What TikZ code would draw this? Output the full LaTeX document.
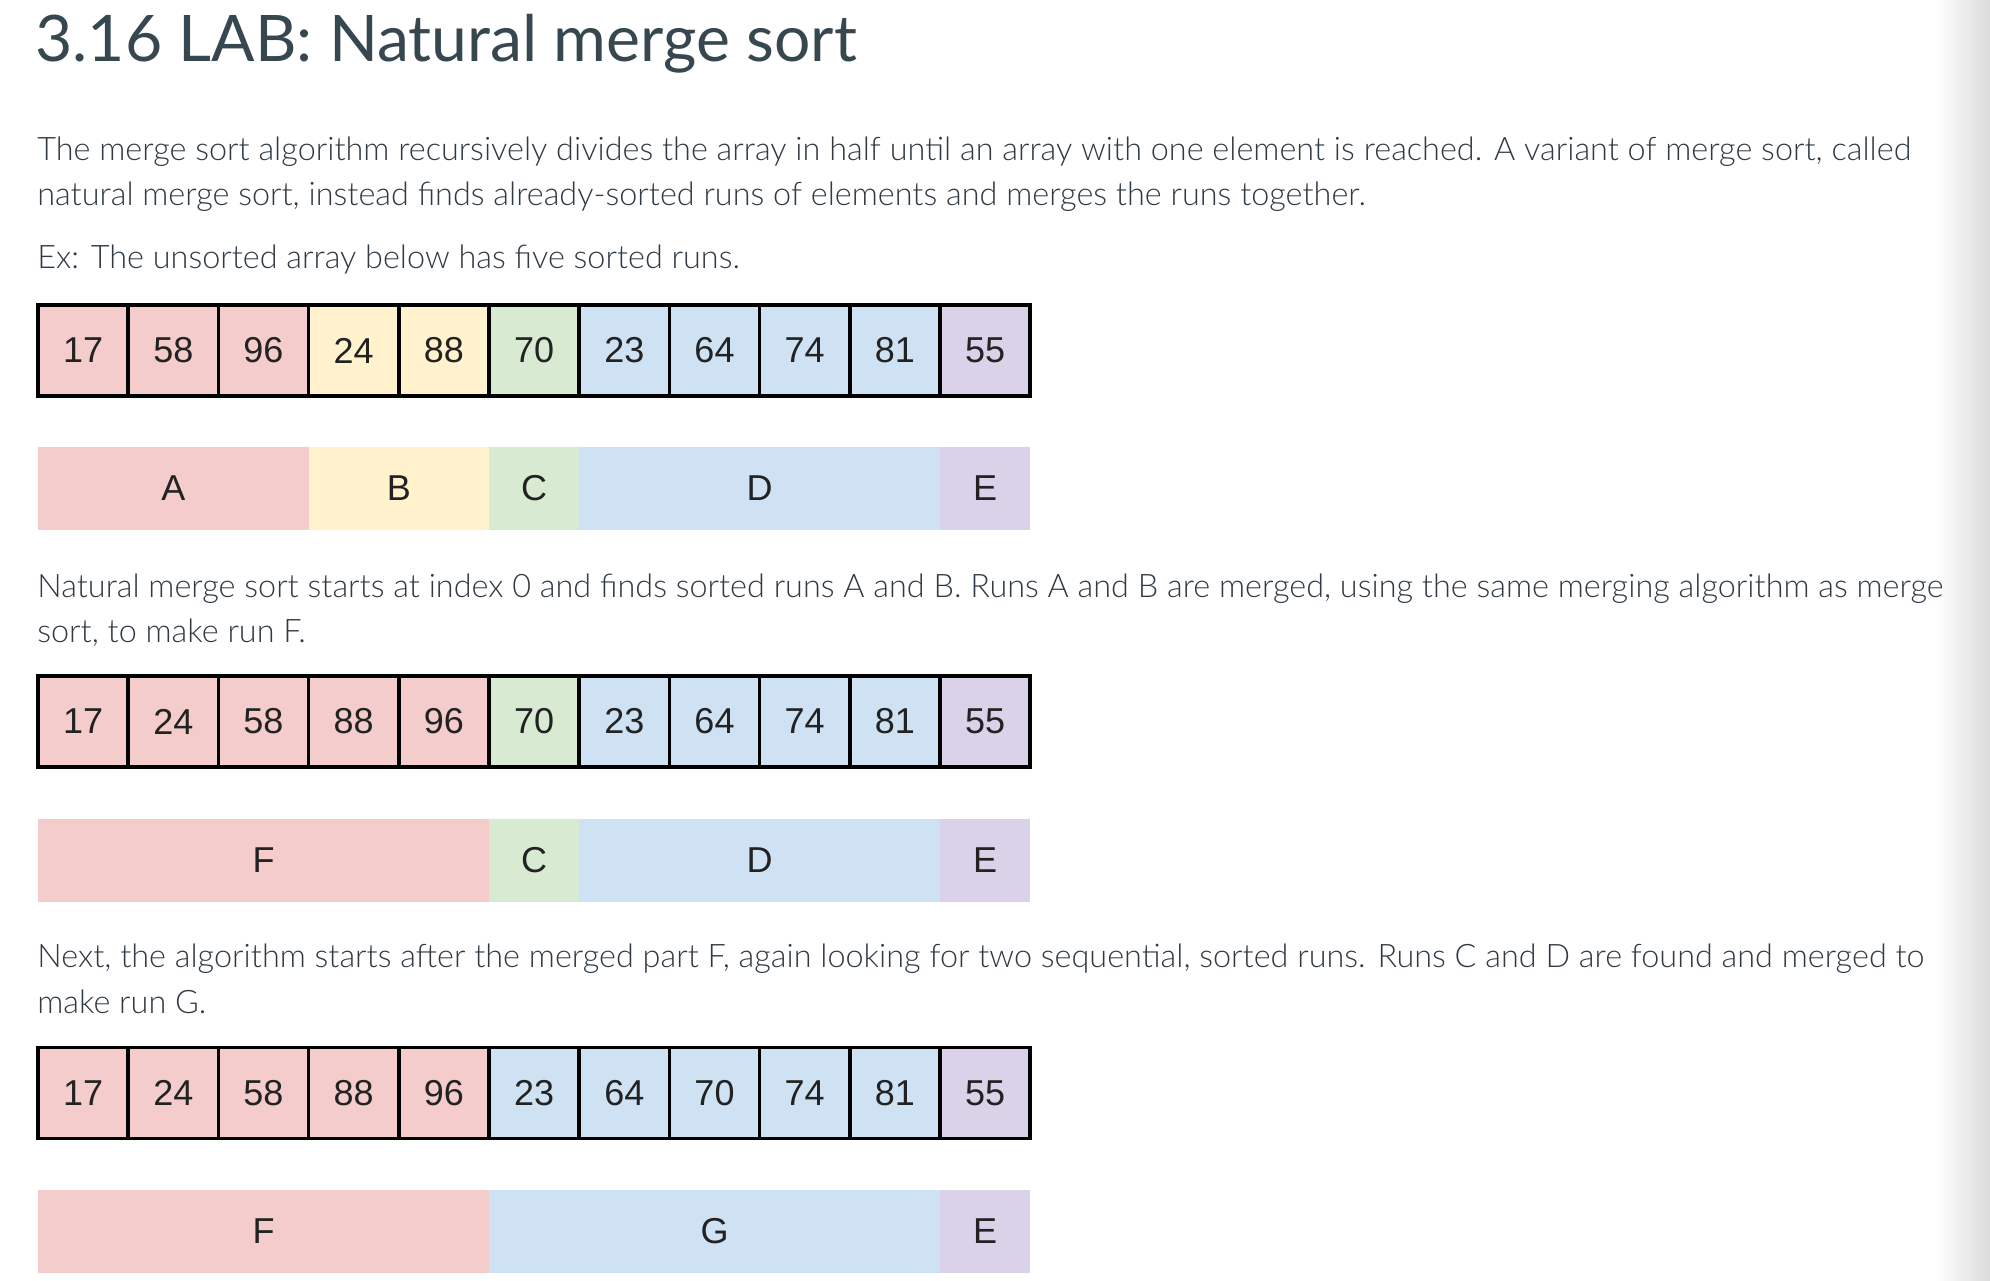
\documentclass[tikz,border=0pt]{standalone}
\usepackage{fontspec}
\setmainfont{Lato Light}
\newfontfamily\titlefont{Lato}
\newfontfamily\cellfont{Liberation Sans}
\definecolor{runred}{HTML}{F4CCCC}
\definecolor{runyellow}{HTML}{FFF2CC}
\definecolor{rungreen}{HTML}{D9EAD3}
\definecolor{runblue}{HTML}{CFE2F3}
\definecolor{runpurple}{HTML}{D9D2E9}
\definecolor{titleink}{HTML}{37474F}
\definecolor{bodyink}{HTML}{303A44}
\definecolor{cellink}{HTML}{222222}

\begin{document}
\begin{tikzpicture}[x=0.5pt, y=-0.5pt, every node/.style={inner sep=0pt},
  cell/.style={rectangle, draw=black, line width=1.75pt, minimum width=45.1pt, minimum height=45.5pt, text=cellink, font=\cellfont\fontsize{18}{18}\selectfont},
  run/.style={rectangle, minimum width=#1, minimum height=41.5pt, text=cellink, font=\cellfont\fontsize{18}{18}\selectfont},
  para/.style={anchor=base west, text=bodyink, font=\fontsize{16.2}{18}\selectfont}
]
\fill[white] (0,0) rectangle (1990,1280);
\useasboundingbox (0,0) rectangle (1990,1280);
% Page edge shadow
\shade[left color=white, right color=black!14] (1935,0) rectangle (1990,1280);
% Title and text
\node[anchor=base west, text=titleink, font=\titlefont\fontsize{32.1}{38}\selectfont] (title) at (35,61) {3.16 LAB: Natural merge sort};
\node[para] (introa) at (37,160) {The merge sort algorithm recursively divides the array in half until an array with one element is reached. A variant of merge sort, called};
\node[para] (introb) at (37,205) {natural merge sort, instead finds already-sorted runs of elements and merges the runs together.};
\node[para] (exline) at (37,268) {Ex: The unsorted array below has five sorted runs.};
\node[para] (stepa) at (37,597) {Natural merge sort starts at index 0 and finds sorted runs A and B. Runs A and B are merged, using the same merging algorithm as merge};
\node[para] (stepb) at (37,642) {sort, to make run F.};
\node[para] (nexta) at (37,967) {Next, the algorithm starts after the merged part F, again looking for two sequential, sorted runs. Runs C and D are found and merged to};
\node[para] (nextb) at (37,1013) {make run G.};
% Unsorted array
\node[cell, fill=runred] (u1) at (83.1,350.5) {17};
\node[cell, fill=runred] (u2) at (173.3,350.5) {58};
\node[cell, fill=runred] (u3) at (263.5,350.5) {96};
\node[cell, fill=runyellow] (u4) at (353.7,350.5) {24};
\node[cell, fill=runyellow] (u5) at (443.9,350.5) {88};
\node[cell, fill=rungreen] (u6) at (534.1,350.5) {70};
\node[cell, fill=runblue] (u7) at (624.3,350.5) {23};
\node[cell, fill=runblue] (u8) at (714.5,350.5) {64};
\node[cell, fill=runblue] (u9) at (804.7,350.5) {74};
\node[cell, fill=runblue] (u10) at (894.9,350.5) {81};
\node[cell, fill=runpurple] (u11) at (985.1,350.5) {55};
% Runs A to E
\node[run=135.3pt, fill=runred] (ra) at (173.3,488.5) {A};
\node[run=90.2pt, fill=runyellow] (rb) at (398.8,488.5) {B};
\node[run=45.1pt, fill=rungreen] (rc) at (534.1,488.5) {C};
\node[run=180.4pt, fill=runblue] (rd) at (759.6,488.5) {D};
\node[run=45.1pt, fill=runpurple] (re) at (985.1,488.5) {E};
% After merging A and B
\node[cell, fill=runred] (m1) at (83.1,721.5) {17};
\node[cell, fill=runred] (m2) at (173.3,721.5) {24};
\node[cell, fill=runred] (m3) at (263.5,721.5) {58};
\node[cell, fill=runred] (m4) at (353.7,721.5) {88};
\node[cell, fill=runred] (m5) at (443.9,721.5) {96};
\node[cell, fill=rungreen] (m6) at (534.1,721.5) {70};
\node[cell, fill=runblue] (m7) at (624.3,721.5) {23};
\node[cell, fill=runblue] (m8) at (714.5,721.5) {64};
\node[cell, fill=runblue] (m9) at (804.7,721.5) {74};
\node[cell, fill=runblue] (m10) at (894.9,721.5) {81};
\node[cell, fill=runpurple] (m11) at (985.1,721.5) {55};
% Runs F, C, D, E
\node[run=225.5pt, fill=runred] (sf) at (263.5,860) {F};
\node[run=45.1pt, fill=rungreen] (sc) at (534.1,860) {C};
\node[run=180.4pt, fill=runblue] (sd) at (759.6,860) {D};
\node[run=45.1pt, fill=runpurple] (se) at (985.1,860) {E};
% After merging C and D
\node[cell, fill=runred] (g1) at (83.1,1093) {17};
\node[cell, fill=runred] (g2) at (173.3,1093) {24};
\node[cell, fill=runred] (g3) at (263.5,1093) {58};
\node[cell, fill=runred] (g4) at (353.7,1093) {88};
\node[cell, fill=runred] (g5) at (443.9,1093) {96};
\node[cell, fill=runblue] (g6) at (534.1,1093) {23};
\node[cell, fill=runblue] (g7) at (624.3,1093) {64};
\node[cell, fill=runblue] (g8) at (714.5,1093) {70};
\node[cell, fill=runblue] (g9) at (804.7,1093) {74};
\node[cell, fill=runblue] (g10) at (894.9,1093) {81};
\node[cell, fill=runpurple] (g11) at (985.1,1093) {55};
% Runs F, G, E
\node[run=225.5pt, fill=runred] (tf) at (263.5,1231.5) {F};
\node[run=225.5pt, fill=runblue] (tg) at (714.5,1231.5) {G};
\node[run=45.1pt, fill=runpurple] (te) at (985.1,1231.5) {E};
\end{tikzpicture}
\end{document}
